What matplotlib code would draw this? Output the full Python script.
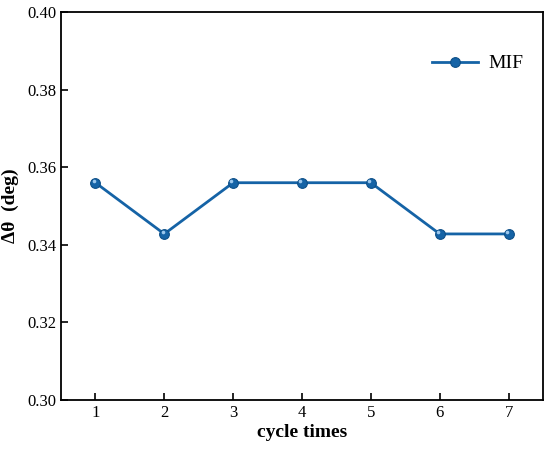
import matplotlib
matplotlib.use("Agg")
import matplotlib.pyplot as plt
from matplotlib.transforms import offset_copy

plt.rcParams["font.family"] = ["Liberation Serif", "DejaVu Serif"]

cycles = [1, 2, 3, 4, 5, 6, 7]
delta_theta = [0.356, 0.3428, 0.356, 0.356, 0.356, 0.3428, 0.3428]
line_color = "#1563a6"

fig = plt.figure(figsize=(5.5, 4.51), dpi=100)
ax = fig.add_axes([61 / 550, 51 / 451, 482 / 550, 388 / 451])

ax.plot(cycles, delta_theta, color=line_color, linewidth=2.0,
        marker="o", markersize=7, markerfacecolor=line_color,
        markeredgecolor="#0d4f88", markeredgewidth=0.8, label="MIF")
# small highlight on markers to mimic the shaded ball
shift = offset_copy(ax.transData, fig=fig, x=-1.2, y=1.2, units="points")
ax.plot(cycles, delta_theta, linestyle="none", marker="o", markersize=2.6,
        markerfacecolor="#9cc8ee", markeredgecolor="none", transform=shift)

ax.set_xlim(0.5, 7.5)
ax.set_ylim(0.30, 0.40)
ax.set_xticks(cycles)
ax.set_yticks([0.30, 0.32, 0.34, 0.36, 0.38, 0.40])
ax.set_yticklabels(["0.30", "0.32", "0.34", "0.36", "0.38", "0.40"])
ax.tick_params(direction="in", length=5, width=1.2, labelsize=12)
for sp in ax.spines.values():
    sp.set_linewidth(1.3)

ax.set_xlabel("cycle times", fontsize=14, fontweight="bold", labelpad=2)
ax.set_ylabel("\u0394\u03b8  (deg)", fontsize=14, fontweight="bold", labelpad=6)

leg = ax.legend(loc="upper right", frameon=False, fontsize=14,
                bbox_to_anchor=(0.995, 0.935), handlelength=2.4,
                handletextpad=0.5)

fig.savefig("out.png", dpi=100)
